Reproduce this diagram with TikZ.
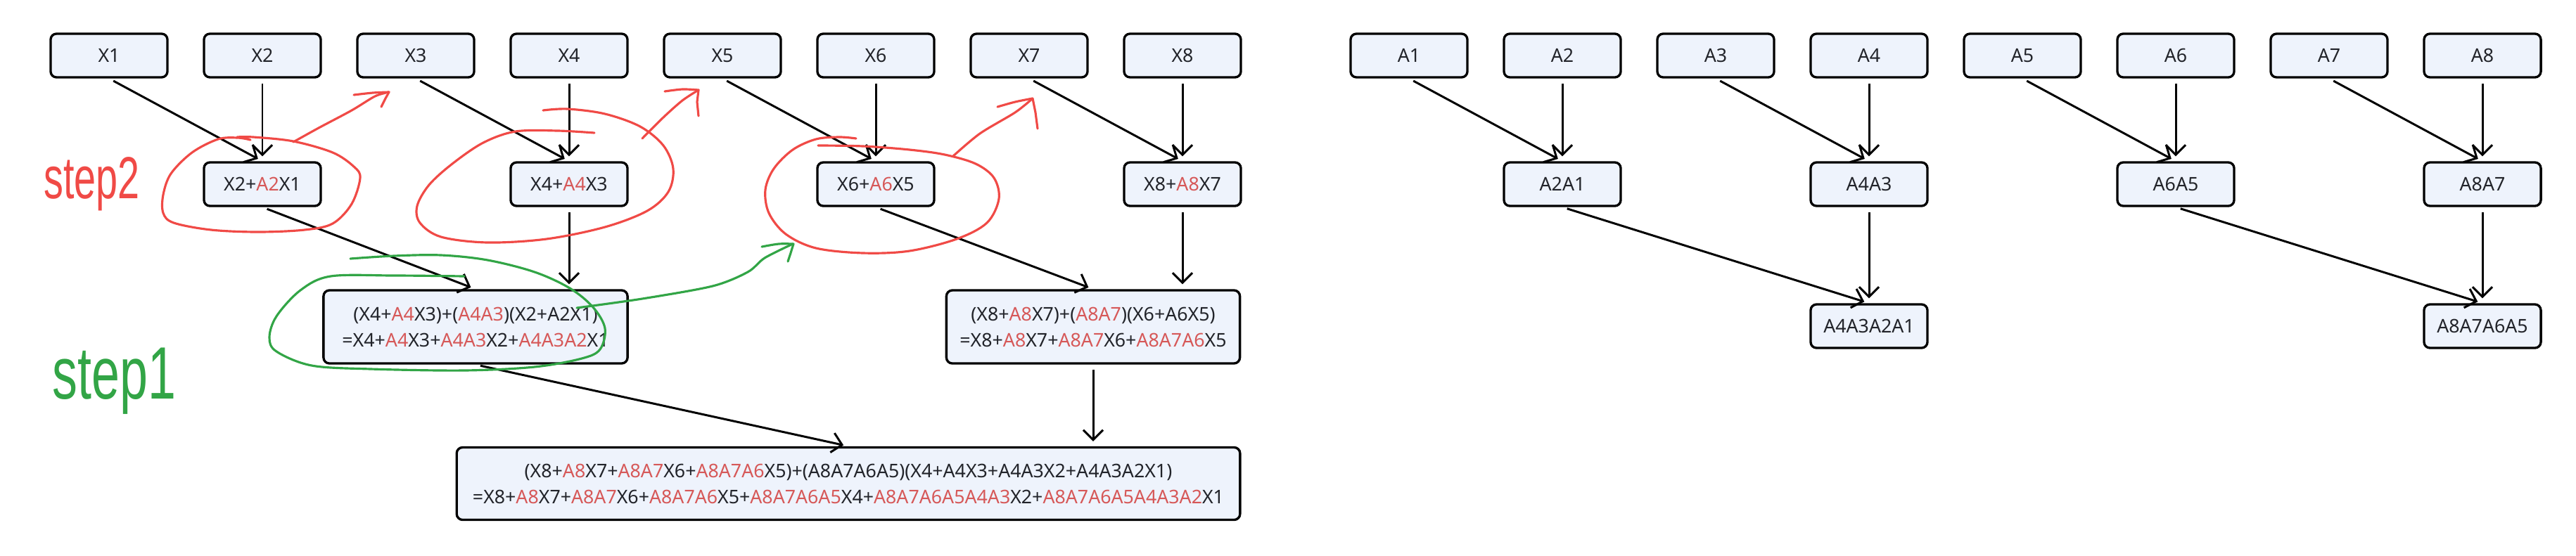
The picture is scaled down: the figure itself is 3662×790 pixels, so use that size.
\documentclass[tikz,border=0pt]{standalone}
\usepackage{fontspec}
\setmainfont{Noto Sans}
\newfontfamily\handfont{Liberation Sans}
\usepackage{xcolor}
\usepackage{tikz}
\usetikzlibrary{positioning,arrows.meta}
\definecolor{boxfill}{RGB}{238,243,252}
\definecolor{txtdark}{RGB}{34,36,42}
\definecolor{txtred}{RGB}{214,88,88}
\definecolor{penred}{RGB}{240,74,70}
\definecolor{pengreen}{RGB}{50,165,70}
\newcommand{\redpart}[1]{\textcolor{txtred}{#1}}

\begin{document}
\begin{tikzpicture}[x=0.01cm, y=-0.01cm, font=\fontsize{7.6pt}{10.5pt}\selectfont,
  >={Straight Barb[length=4pt,width=8pt]},
  box/.style={draw, line width=0.95pt, rounded corners=2.4pt, fill=boxfill, text=txtdark, align=center, inner sep=0pt, minimum width=1.66cm, minimum height=0.62cm},
  sumbox/.style={box, minimum height=1.04cm},
  link/.style={->, line width=0.85pt, shorten <=2pt, shorten >=2pt},
  redpen/.style={draw=penred, line width=0.9pt, line cap=round, line join=round},
  greenpen/.style={draw=pengreen, line width=0.9pt, line cap=round, line join=round}]
\useasboundingbox (0,0) rectangle (3662,790);
% left tree
\node[box] (x1) at (155,79)  {X1};
\node[box] (x2) at (373,79)  {X2};
\node[box] (x3) at (591,79)  {X3};
\node[box] (x4) at (809,79)  {X4};
\node[box] (x5) at (1027,79) {X5};
\node[box] (x6) at (1245,79) {X6};
\node[box] (x7) at (1463,79) {X7};
\node[box] (x8) at (1681,79) {X8};
\node[box] (s21) at (373,262)  {X2+\redpart{A2}X1};
\node[box] (s43) at (809,262)  {X4+\redpart{A4}X3};
\node[box] (s65) at (1245,262) {X6+\redpart{A6}X5};
\node[box] (s87) at (1681,262) {X8+\redpart{A8}X7};
\node[sumbox, minimum width=4.32cm] (s4321) at (676,465)
  {(X4+\redpart{A4}X3)+(\redpart{A4A3})(X2+A2X1)\\ =X4+\redpart{A4}X3+\redpart{A4A3}X2+\redpart{A4A3A2}X1};
\node[sumbox, minimum width=4.17cm] (s8765) at (1554,465)
  {(X8+\redpart{A8}X7)+(\redpart{A8A7})(X6+A6X5)\\ =X8+\redpart{A8}X7+\redpart{A8A7}X6+\redpart{A8A7A6}X5};
\node[sumbox, minimum width=11.13cm, minimum height=1.03cm] (sall) at (1206,688)
  {(X8+\redpart{A8}X7+\redpart{A8A7}X6+\redpart{A8A7A6}X5)+(A8A7A6A5)(X4+A4X3+A4A3X2+A4A3A2X1)\\ =X8+\redpart{A8}X7+\redpart{A8A7}X6+\redpart{A8A7A6}X5+\redpart{A8A7A6A5}X4+\redpart{A8A7A6A5A4A3}X2+\redpart{A8A7A6A5A4A3A2}X1};
\draw[link] (x1.south) -- (s21.north);
\draw[link] (x2) -- (s21);
\draw[link] (x3.south) -- (s43.north);
\draw[link] (x4) -- (s43);
\draw[link] (x5.south) -- (s65.north);
\draw[link] (x6) -- (s65);
\draw[link] (x7.south) -- (s87.north);
\draw[link] (x8) -- (s87);
\draw[link] (s21.south) -- (s4321.north);
\draw[link] (s43.south) -- (s43.south |- s4321.north);
\draw[link] (s65.south) -- (s8765.north);
\draw[link] (s87.south) -- (s87.south |- s8765.north);
\draw[link] (s4321.south) -- (sall.north);
\draw[link] (s8765.south) -- (s8765.south |- sall.north);
% right tree
\node[box] (a1) at (2003,79) {A1};
\node[box] (a2) at (2221,79) {A2};
\node[box] (a3) at (2439,79) {A3};
\node[box] (a4) at (2657,79) {A4};
\node[box] (a5) at (2875,79) {A5};
\node[box] (a6) at (3093,79) {A6};
\node[box] (a7) at (3311,79) {A7};
\node[box] (a8) at (3529,79) {A8};
\node[box] (a21) at (2221,262) {A2A1};
\node[box] (a43) at (2657,262) {A4A3};
\node[box] (a65) at (3093,262) {A6A5};
\node[box] (a87) at (3529,262) {A8A7};
\node[box] (a4321) at (2657,464) {A4A3A2A1};
\node[box] (a8765) at (3529,464) {A8A7A6A5};
\draw[link] (a1.south) -- (a21.north);
\draw[link] (a2) -- (a21);
\draw[link] (a3.south) -- (a43.north);
\draw[link] (a4) -- (a43);
\draw[link] (a5.south) -- (a65.north);
\draw[link] (a6) -- (a65);
\draw[link] (a7.south) -- (a87.north);
\draw[link] (a8) -- (a87);
\draw[link] (a21.south) -- (a4321.north);
\draw[link] (a43) -- (a4321);
\draw[link] (a65.south) -- (a8765.north);
\draw[link] (a87) -- (a8765);
% hand marks
\node[anchor=base west, text=penred, font=\handfont\fontsize{24pt}{24pt}\selectfont] (step2) at (50,282) {\scalebox{0.66}[1]{step2}};
\node[anchor=base west, text=pengreen, font=\handfont\fontsize{30pt}{30pt}\selectfont] (step1) at (62,567) {\scalebox{0.68}[1]{step1}};
\draw[redpen] plot[smooth, tension=0.55] coordinates {(356,199) (338,196) (310,198) (273,217) (243,247) (232,277) (232,303) (247,317) (300,327) (367,330) (433,327) (473,318) (500,290) (512,253) (503,237) (473,217) (417,201) (360,195) (337,195)};
\draw[redpen] plot[smooth] coordinates {(417,202) (453,182) (500,157) (533,137) (553,131)};
\draw[redpen] plot[smooth] coordinates {(503,135) (530,132) (553,131)} -- (548,140) -- (542,152);
\draw[redpen] plot[smooth, tension=0.55] coordinates {(772,157) (807,155) (860,162) (910,180) (943,207) (957,240) (950,273) (920,300) (860,323) (777,340) (693,345) (627,337) (597,317) (593,293) (610,263) (643,233) (687,203) (733,187) (793,186) (845,189)};
\draw[redpen] plot[smooth] coordinates {(913,197) (943,167) (970,143) (993,128)};
\draw[redpen] plot[smooth] coordinates {(945,130) (970,127) (993,128)} -- (991,145) -- (993,165);
\draw[redpen] plot[smooth, tension=0.55] coordinates {(1217,197) (1193,195) (1160,198) (1127,213) (1100,240) (1088,270) (1093,303) (1117,333) (1160,353) (1227,360) (1293,357) (1360,340) (1403,317) (1420,283) (1413,253) (1387,233) (1343,220) (1293,213) (1227,208) (1163,207)};
\draw[redpen] plot[smooth] coordinates {(1355,222) (1393,190) (1443,160) (1468,140)};
\draw[redpen] plot[smooth] coordinates {(1418,152) (1443,145) (1468,140)} -- (1472,160) -- (1475,183);
\draw[greenpen] plot[smooth, tension=0.55] coordinates {(498,368) (560,364) (627,363) (693,370) (760,387) (810,410) (843,437) (860,467) (853,497) (827,510) (760,522) (660,527) (527,525) (443,520) (393,500) (383,480) (393,450) (427,413) (470,393) (560,392) (660,393)};
\draw[greenpen] plot[smooth] coordinates {(820,438) (913,425) (1013,407) (1063,387) (1087,367) (1127,347)};
\draw[greenpen] plot[smooth] coordinates {(1083,351) (1107,347) (1128,347)} -- (1124,360) -- (1120,372);
\end{tikzpicture}
\end{document}
